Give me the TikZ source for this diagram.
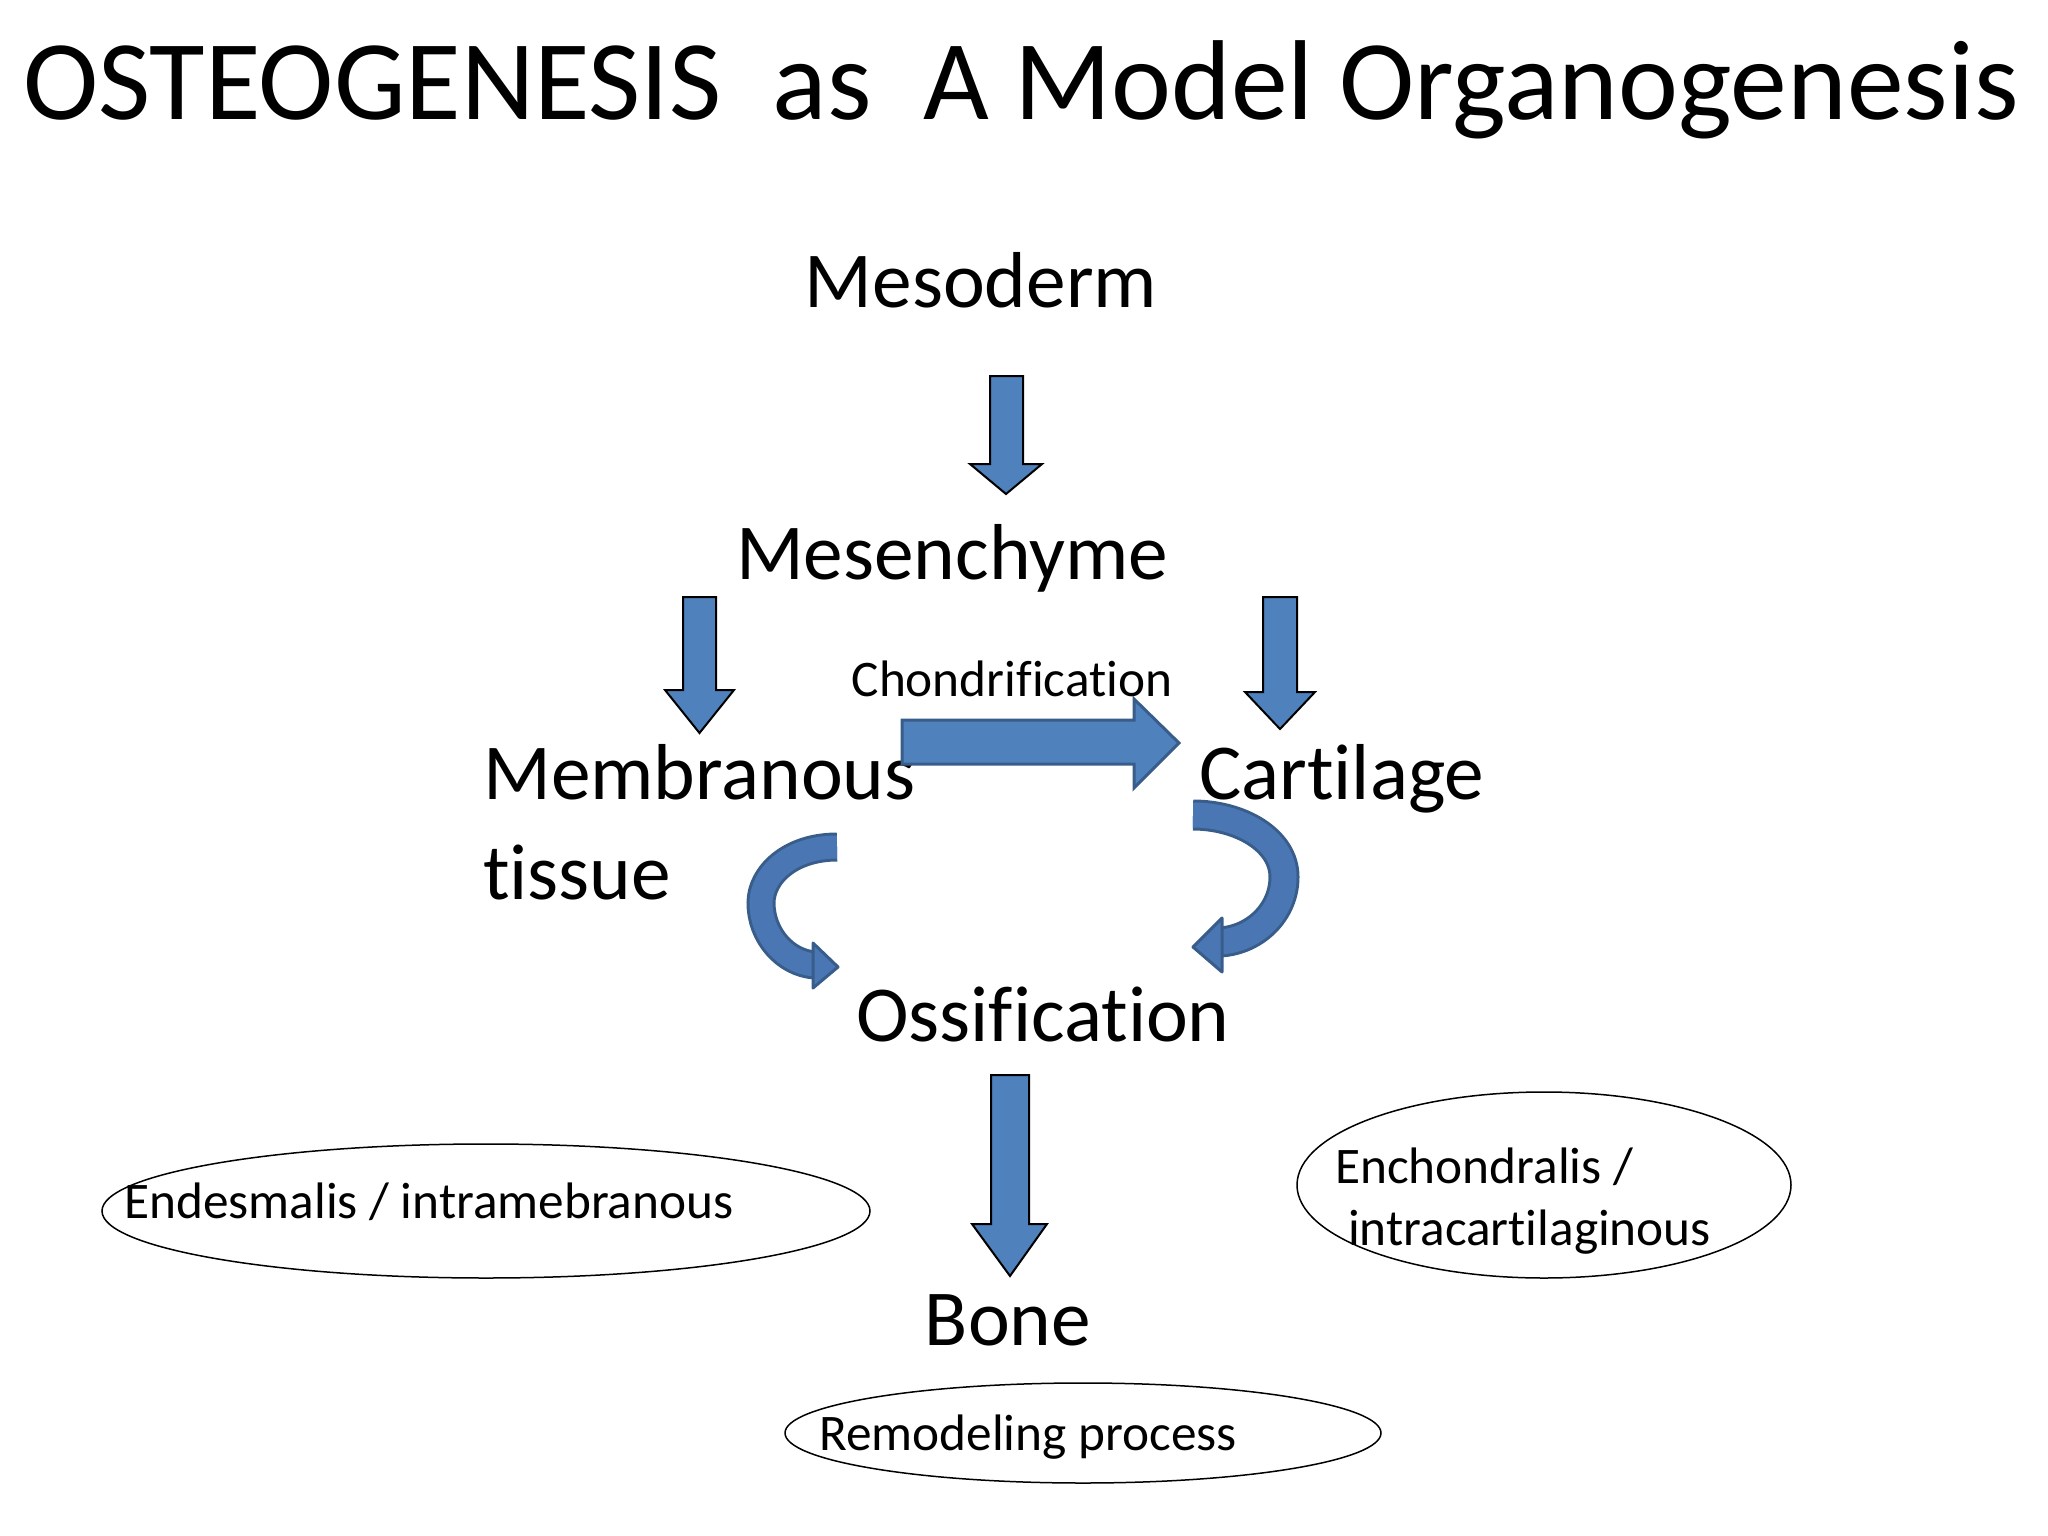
\documentclass[tikz,border=0pt]{standalone}
\usepackage{fontspec}
\setmainfont{Carlito}[Ligatures=NoCommon]
\usetikzlibrary{shapes.geometric}
\definecolor{arrowblue}{HTML}{4F81BD}
\definecolor{arrowedge}{HTML}{385D8A}
\definecolor{curveblue}{HTML}{4A77B3}
\begin{document}
\begin{tikzpicture}[x=1pt,y=-1pt,
  lbl/.style={inner sep=0pt, font=\fontsize{79.3}{95}\selectfont},
  smalllbl/.style={inner sep=0pt, font=\fontsize{51.3}{62}\selectfont},
  titlelbl/.style={inner sep=0pt, font=\fontsize{113.6}{130}\selectfont},
  downarrow/.style={fill=arrowblue, draw=black, line width=2pt, line join=miter},
  sidearrow/.style={fill=arrowblue, draw=arrowedge, line width=3pt, line join=miter},
  bandedge/.style={draw=arrowedge, line width=31pt},
  bandfill/.style={draw=curveblue, line width=25pt},
  headfill/.style={fill=curveblue, draw=arrowedge, line width=3pt, line join=round},
  oval/.style={draw=black, line width=1.5pt, ellipse, inner sep=0pt}]
\useasboundingbox (0,0) rectangle (2048,1536);

% title
\node[titlelbl, anchor=base west] (title) at (23,120) {OSTEOGENESIS\ \ as\ \ A Model Organogenesis};

% labels
\node[lbl, anchor=base] (meso) at (981,307) {Mesoderm};
\node[lbl, anchor=base] (mesen) at (952,579) {Mesenchyme};
\node[lbl, anchor=base west] (memb) at (483,799) {Membranous};
\node[lbl, anchor=base west] (tiss) at (483,899) {tissue};
\node[lbl, anchor=base west] (cart) at (1199,799) {Cartilage};
\node[lbl, anchor=base] (ossi) at (1043,1041) {Ossification};
\node[lbl, anchor=base] (bone) at (1008,1345) {Bone};
\node[smalllbl, anchor=base] (chond) at (1012,696) {Chondrification};

% ovals
\node[oval, minimum width=768pt, minimum height=134pt] (ovendes) at (486,1211) {};
\node[smalllbl, anchor=base west] (endes) at (124,1218) {Endesmalis / intramebranous};
\node[oval, minimum width=494pt, minimum height=186pt] (ovench) at (1544,1185) {};
\node[smalllbl, anchor=base west] (ench1) at (1335,1183) {Enchondralis /};
\node[smalllbl, anchor=base west] (ench2) at (1348,1245) {intracartilaginous};
\node[oval, minimum width=596pt, minimum height=100pt] (ovremod) at (1083,1433) {};
\node[smalllbl, anchor=base] (remod) at (1028,1450) {Remodeling process};

% straight block arrows
\draw[downarrow] (990,376) -- (1023,376) -- (1023,464) -- (1042,464) -- (1006,494) -- (970,464) -- (990,464) -- cycle;
\draw[downarrow] (683,597) -- (716,597) -- (716,690) -- (734,690) -- (699.5,733) -- (665,690) -- (683,690) -- cycle;
\draw[downarrow] (1263,597) -- (1297,597) -- (1297,692) -- (1315,692) -- (1280,729) -- (1245,692) -- (1263,692) -- cycle;
\draw[downarrow] (991,1075) -- (1029,1075) -- (1029,1224) -- (1047,1224) -- (1010,1276) -- (972,1224) -- (991,1224) -- cycle;
\draw[sidearrow] (902,720) -- (1134,720) -- (1134,699) -- (1179,743) -- (1134,788) -- (1134,764) -- (902,764) -- cycle;

% curved arrows
\draw[bandedge, line width=29pt] (837,847) .. controls (790,847) and (761,875) .. (761,903) .. controls (761,935) and (785,963) .. (815,965);
\draw[bandfill, line width=23pt] (837,847) .. controls (790,847) and (761,875) .. (761,903) .. controls (761,935) and (785,963) .. (815,965);
\draw[headfill] (813,943) -- (838,967) -- (813,988) -- cycle;

\draw[bandedge] (1193,815) .. controls (1240,815) and (1284,840) .. (1284,877) .. controls (1284,912) and (1255,940) .. (1220,942);
\draw[bandfill] (1193,815) .. controls (1240,815) and (1284,840) .. (1284,877) .. controls (1284,912) and (1255,940) .. (1220,942);
\draw[headfill] (1222,918) -- (1193,947) -- (1222,972) -- cycle;
\end{tikzpicture}
\end{document}
